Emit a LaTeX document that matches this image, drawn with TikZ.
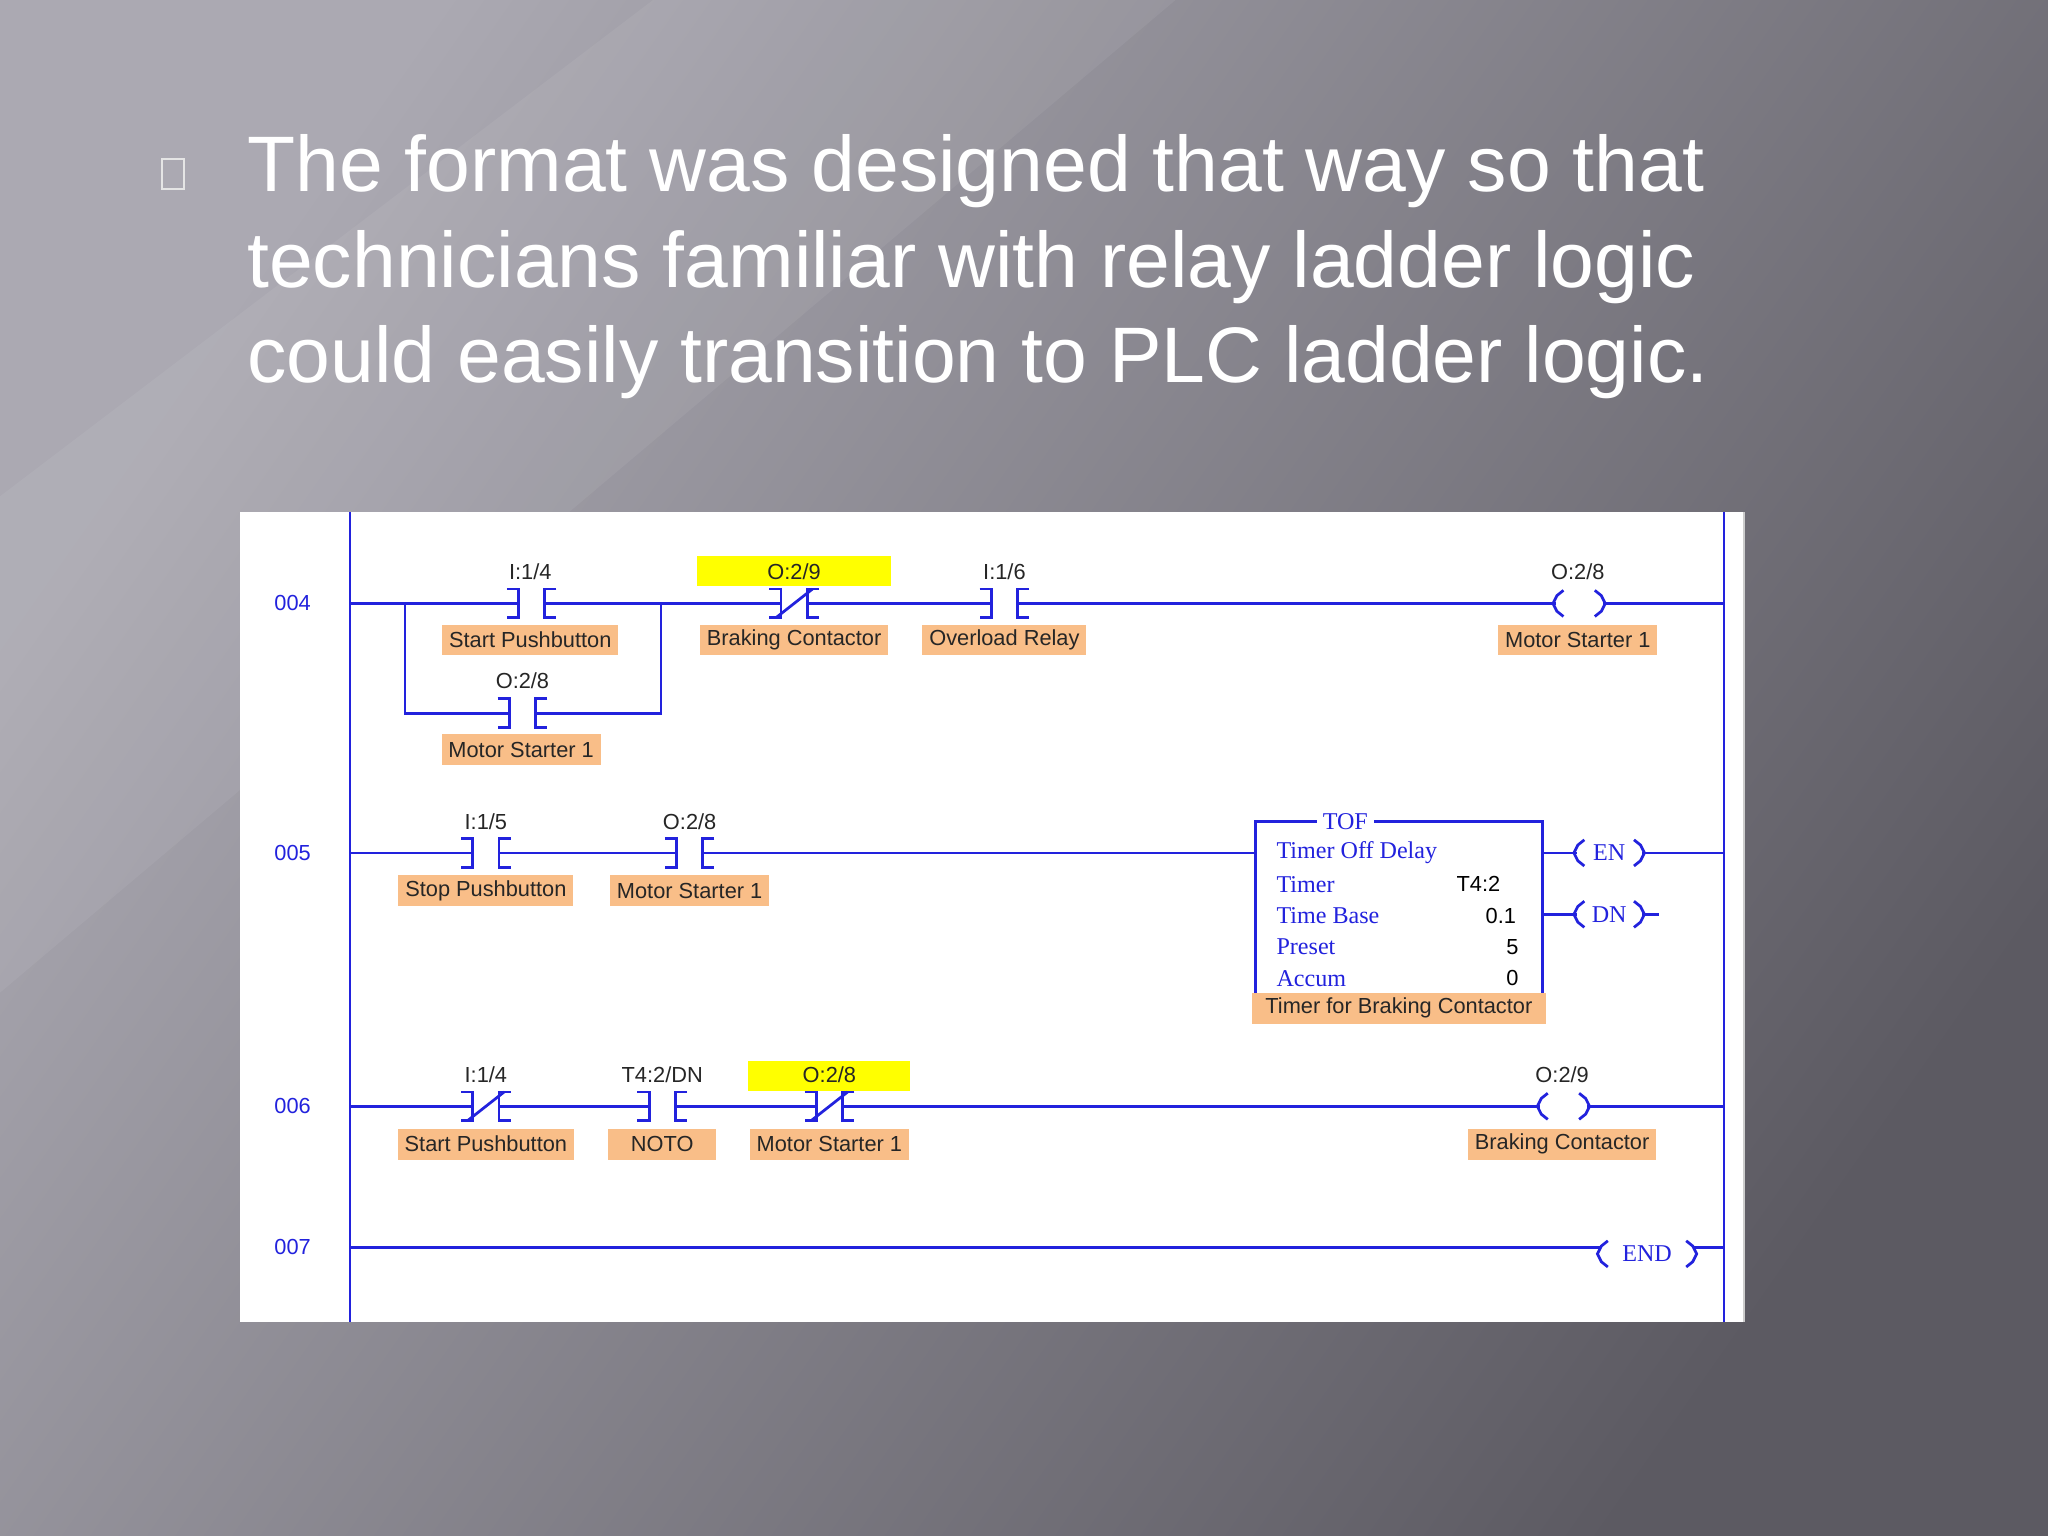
\documentclass[tikz,border=0pt]{standalone}
\usepackage{fontspec}
\setmainfont{Liberation Sans}
\newfontfamily\plcserif{Liberation Serif}
\definecolor{ldblue}{HTML}{2222DD}
\definecolor{lblor}{HTML}{F9BE88}
\definecolor{hiyel}{HTML}{FFFF00}
\definecolor{bgA}{HTML}{ABA9B2}
\definecolor{bgB}{HTML}{5C5A62}
\tikzset{
  rung/.style={draw=ldblue,line width=1.2pt},
  addr/.style={font=\fontsize{9.5}{11}\selectfont,text=black!85,inner sep=1pt},
  lbl/.style={fill=lblor,font=\fontsize{9.5}{11}\selectfont,text=black!85,inner xsep=3pt,minimum height=13.5pt,inner ysep=0pt},
  rnum/.style={font=\fontsize{9.5}{11}\selectfont,text=ldblue},
  tofs/.style={font=\plcserif\fontsize{10.5}{11}\selectfont,text=ldblue,inner sep=0pt},
  tofv/.style={font=\fontsize{9.5}{11}\selectfont,text=black,inner sep=0pt},
  title/.style={font=\fontsize{34.3}{40}\selectfont,text=white,anchor=base west,inner sep=0pt},
  nocontact/.pic={\fill[white] (-9,-7) rectangle (9,7);
    \draw[rung] (-19,-11) -- (-10,-11) -- (-10,11) -- (-19,11);
    \draw[rung] (19,-11) -- (10,-11) -- (10,11) -- (19,11);},
  nccontact/.pic={\fill[white] (-9,-7) rectangle (9,7);
    \draw[rung] (-19,-11) -- (-10,-11) -- (-10,11) -- (-19,11);
    \draw[rung] (19,-11) -- (10,-11) -- (10,11) -- (19,11);
    \draw[rung] (-14,11) -- (14,-11);},
}
\newcommand\ldcoil[5]{% name x y halfwidth text
  \fill[white] (#2-#4+2,#3-9) rectangle (#2+#4-2,#3+9);
  \draw[rung] (#2-#4+8,#3-10) -- (#2-#4+3,#3-6) -- (#2-#4,#3) -- (#2-#4+3,#3+6) -- (#2-#4+8,#3+10);
  \draw[rung] (#2+#4-8,#3-10) -- (#2+#4-3,#3-6) -- (#2+#4,#3) -- (#2+#4-3,#3+6) -- (#2+#4-8,#3+10);
  \node[tofs] (#1) at (#2,#3) {#5};}
\begin{document}
\begin{tikzpicture}[x=0.02cm,y=-0.02cm]
\useasboundingbox (0,0) rectangle (1568,1176);
\shade[top color=bgA,bottom color=bgB,shading angle=55] (0,0) rectangle (1568,1176);
\fill[white,opacity=0.06] (0,380) -- (500,0) -- (900,0) -- (0,760) -- cycle;
% bullet
\draw[white!80!gray,line width=0.8pt] (124,122) rectangle (141,145);
\node[title] (t1) at (189,147) {The format was designed that way so that};
\node[title] (t2) at (189,220) {technicians familiar with relay ladder logic};
\node[title] (t3) at (189,293) {could easily transition to PLC ladder logic.};
% panel
\fill[white] (184,392) rectangle (1336,1012);
\draw[gray!40,line width=1pt] (1335,392) -- (1335,1012);
\coordinate (lrt) at (268,392); \coordinate (lrb) at (268,1012);
\coordinate (rrt) at (1320,392); \coordinate (rrb) at (1320,1012);
\draw[rung] (lrt) -- (lrb);
\draw[rung] (rrt) -- (rrb);
% rung numbers
\node[rnum] (n4) at (224,462) {004};
\node[rnum] (n5) at (224,653) {005};
\node[rnum] (n6) at (224,847) {006};
\node[rnum] (n7) at (224,955) {007};
% highlights
\fill[hiyel] (534,426) rectangle (682,449);
\fill[hiyel] (573,812) rectangle (697,835);
% rung 004
\draw[rung] (268,462) -- (1320,462);
\draw[rung] (310,462) -- (310,546) -- (506,546) -- (506,462);
\pic at (407,462) {nocontact};
\pic at (400,546) {nocontact};
\pic at (608,462) {nccontact};
\pic at (769,462) {nocontact};
\ldcoil{c48}{1209}{462}{20}{}
\node[addr] (a1) at (406,438) {I:1/4};
\node[addr] (a2) at (400,521) {O:2/8};
\node[addr] (a3) at (608,438) {O:2/9};
\node[addr] (a4) at (769,438) {I:1/6};
\node[addr] (a5) at (1208,438) {O:2/8};
\node[lbl] (l1) at (406,490) {Start Pushbutton};
\node[lbl] (l2) at (399,574) {Motor Starter 1};
\node[lbl] (l3) at (608,490) {Braking Contactor};
\node[lbl] (l4) at (769,490) {Overload Relay};
\node[lbl] (l5) at (1208,490) {Motor Starter 1};
% rung 005
\draw[rung] (268,653) -- (961,653);
\pic at (372,653) {nocontact};
\pic at (528,653) {nocontact};
\node[addr] (b1) at (372,629) {I:1/5};
\node[addr] (b2) at (528,629) {O:2/8};
\node[lbl] (m1) at (372,682) {Stop Pushbutton};
\node[lbl] (m2) at (528,682) {Motor Starter 1};
\draw[rung] (1008,629) -- (961,629) -- (961,760);
\draw[rung] (1052,629) -- (1181,629) -- (1181,760);
\node[tofs] (tof) at (1030,629) {TOF};
\node[tofs,anchor=west] (r1) at (977,653) {Timer Off Delay};
\node[tofs,anchor=west] (r2) at (977,677) {Timer};
\node[tofs,anchor=west] (r3) at (977,701) {Time Base};
\node[tofs,anchor=west] (r4) at (977,725) {Preset};
\node[tofs,anchor=west] (r5) at (977,749) {Accum};
\node[tofv,anchor=east] (v2) at (1149,677) {T4:2};
\node[tofv,anchor=east] (v3) at (1161,701) {0.1};
\node[tofv,anchor=east] (v4) at (1163,725) {5};
\node[tofv,anchor=east] (v5) at (1163,749) {0};
\node[lbl,minimum width=128pt] (tl) at (1071,772) {Timer for Braking Contactor};
\draw[rung] (1181,653) -- (1320,653);
\draw[rung] (1181,700) -- (1270,700);
\ldcoil{en}{1232}{653}{27}{EN}
\ldcoil{dn}{1232}{700}{27}{DN}
% rung 006
\draw[rung] (268,847) -- (1320,847);
\pic at (372,847) {nccontact};
\pic at (507,847) {nocontact};
\pic at (635,847) {nccontact};
\ldcoil{c29}{1197}{847}{20}{}
\node[addr] (d1) at (372,823) {I:1/4};
\node[addr] (d2) at (507,823) {T4:2/DN};
\node[addr] (d3) at (635,823) {O:2/8};
\node[addr] (d4) at (1196,823) {O:2/9};
\node[lbl] (e1) at (372,876) {Start Pushbutton};
\node[lbl,minimum width=47pt] (e2) at (507,876) {NOTO};
\node[lbl] (e3) at (635,876) {Motor Starter 1};
\node[lbl] (e4) at (1196,876) {Braking Contactor};
% rung 007
\draw[rung] (268,955) -- (1320,955);
\ldcoil{endc}{1261}{960}{38}{END}
\end{tikzpicture}
\end{document}
